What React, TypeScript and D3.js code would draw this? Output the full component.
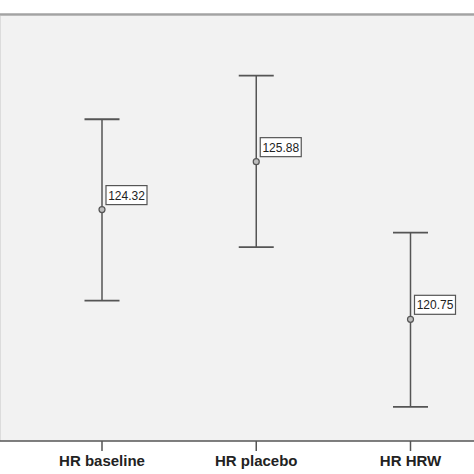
import * as d3 from 'd3'

const categories = ['HR baseline', 'HR placebo', 'HR HRW']
const means = [124.32, 125.88, 120.75]
const upper = [127.26, 128.68, 123.57]
const lower = [121.36, 123.1, 117.9]
const yDomain: [number, number] = [116.79, 130.62]

const W = 474
const H = 474
const plotTop = 16
const plotBottom = 441

export default function App() {
  const x = d3.scalePoint<string>().domain(categories).range([102, 410.5])
  const y = d3.scaleLinear().domain(yDomain).range([plotBottom, plotTop])
  const capHalf = 17.5

  return (
    <svg
      width={W}
      height={H}
      style={{ position: 'absolute', left: 0, top: 0, background: '#fff' }}
      fontFamily="'Liberation Sans', Arial, sans-serif"
    >
      <rect x={0} y={plotTop} width={W} height={plotBottom - plotTop} fill="#f2f2f2" />
      <line x1={0} x2={W} y1={14.5} y2={14.5} stroke="#a3a3a3" strokeWidth={2.5} />
      <line x1={0.5} x2={0.5} y1={plotTop} y2={plotBottom} stroke="#dcdcdc" />
      <line x1={0} x2={W} y1={plotBottom} y2={plotBottom} stroke="#555" strokeWidth={1.5} />

      {categories.map((c, i) => {
        const cx = x(c) ?? 0
        const cy = y(means[i])
        const yTop = y(upper[i])
        const yBot = y(lower[i])
        return (
          <g key={c}>
            <line x1={cx} x2={cx} y1={yTop} y2={yBot} stroke="#555" strokeWidth={1.5} />
            <line x1={cx - capHalf} x2={cx + capHalf} y1={yTop} y2={yTop} stroke="#555" strokeWidth={1.8} />
            <line x1={cx - capHalf} x2={cx + capHalf} y1={yBot} y2={yBot} stroke="#555" strokeWidth={1.8} />
            <circle cx={cx} cy={cy} r={3} fill="#bdbdbd" stroke="#555" strokeWidth={1.2} />
            <rect
              x={cx + 4}
              y={cy - 24}
              width={41}
              height={19}
              fill="#fff"
              stroke="#555"
              strokeWidth={1.2}
            />
            <text x={cx + 24.5} y={cy - 10} textAnchor="middle" fontSize={12} fill="#222">
              {means[i].toFixed(2)}
            </text>
            <line x1={cx} x2={cx} y1={plotBottom} y2={plotBottom + 10} stroke="#555" strokeWidth={1.5} />
            <text x={cx} y={466} textAnchor="middle" fontSize={15} fontWeight="bold" fill="#222">
              {c}
            </text>
          </g>
        )
      })}
    </svg>
  )
}
